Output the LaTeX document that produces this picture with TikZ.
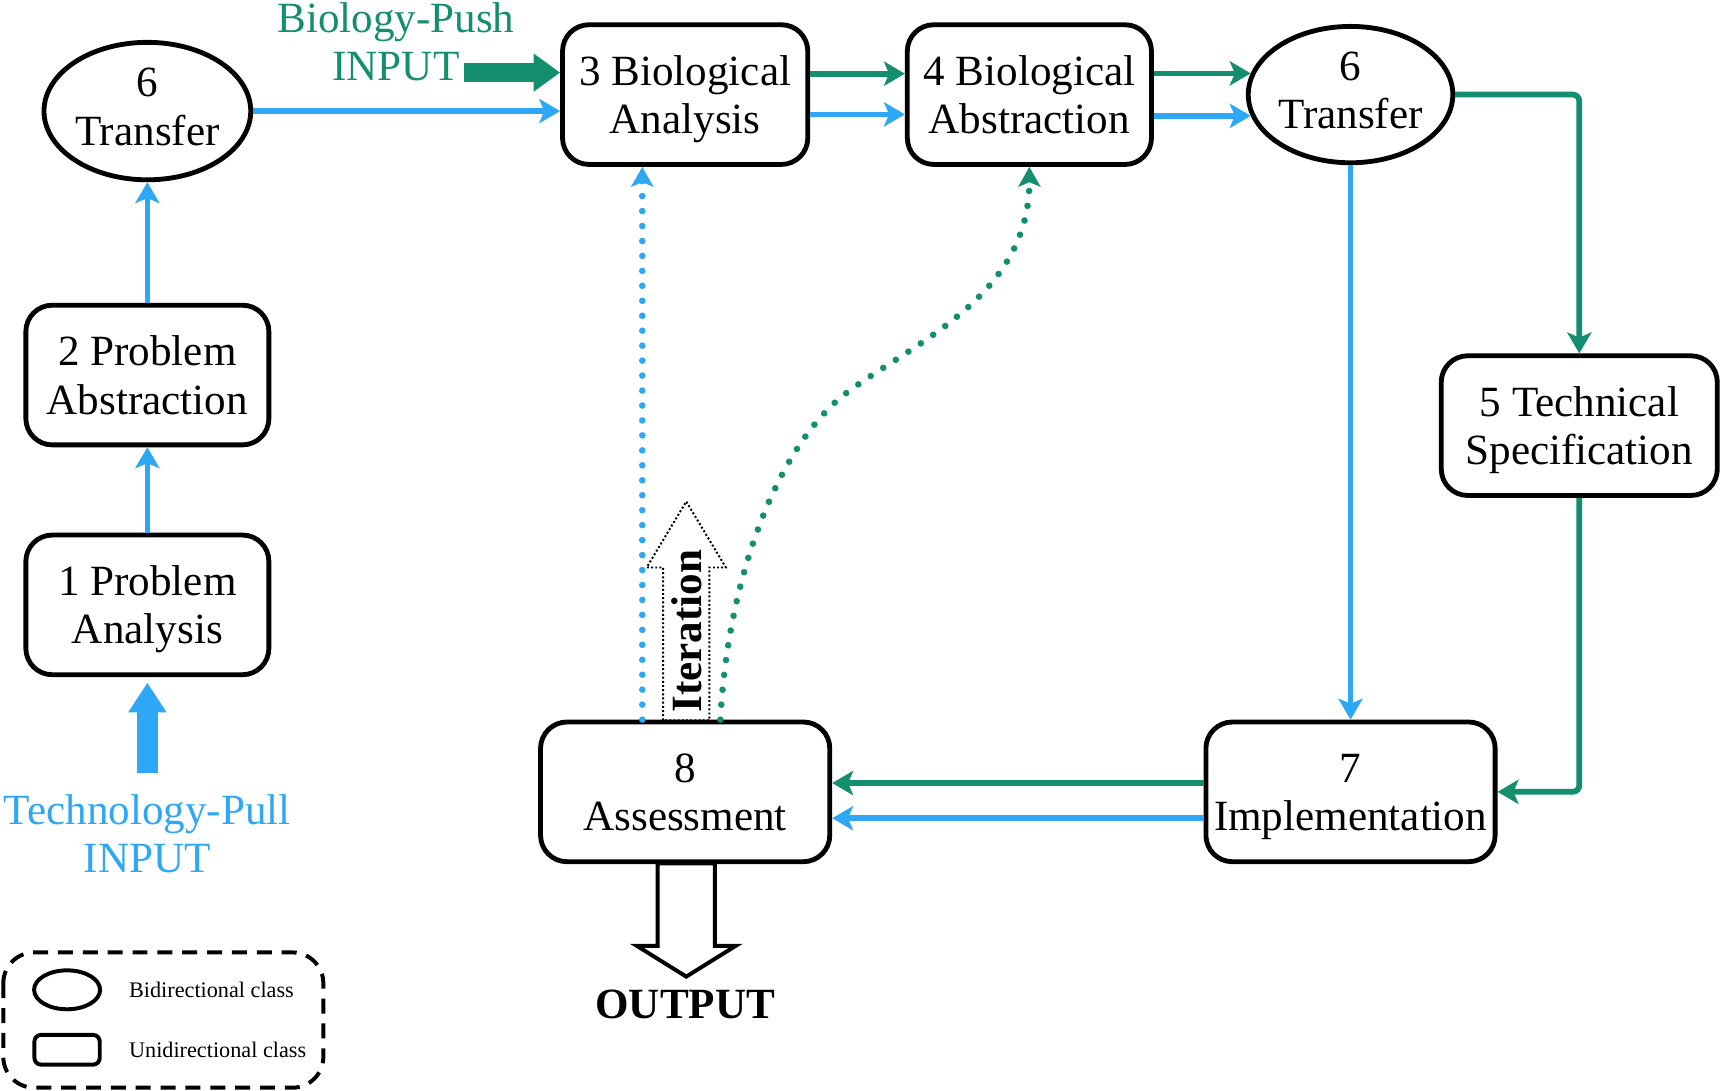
\documentclass[tikz,border=0pt]{standalone}
\usepackage{fontspec}
\setmainfont{Liberation Serif}
\usetikzlibrary{arrows.meta,calc,shapes.geometric}
\definecolor{cblue}{RGB}{46,167,245}
\definecolor{cgreen}{RGB}{19,143,111}
\newcommand\mainfs{\fontsize{19.6pt}{22pt}\selectfont}
\newcommand\legfs{\fontsize{10.1pt}{12pt}\selectfont}
\newcommand\bxtop{\rule{0pt}{18pt}}
\newcommand\bxbot{\rule[-4.5pt]{0pt}{0pt}}
\newcommand\eltop{\rule{0pt}{15.4pt}}
\newcommand\elbot{\rule[-6.4pt]{0pt}{0pt}}
\begin{document}
\begin{tikzpicture}[x=0.5pt,y=-0.5pt,
  stagebox/.style={draw=black,line width=2.2pt,rounded corners=12pt,inner sep=0pt,align=center,font=\mainfs,minimum height=63.5pt},
  stageell/.style={draw=black,line width=2.2pt,ellipse,inner sep=0pt,align=center,font=\mainfs},
  arr/.style={line width=2.6pt,-{Stealth[length=9.5pt,width=11pt,inset=2.3pt]}},
  barr/.style={arr,cblue},
  garr/.style={arr,cgreen},
  dots/.style={line width=3pt,line cap=round,dash pattern=on 0pt off 6.8pt,-{Stealth[length=9pt,width=10pt,inset=2pt]}},
  lbl/.style={font=\mainfs,align=center,inner sep=0pt},
  legtext/.style={anchor=west,font=\legfs,inner sep=0pt}
]
\useasboundingbox (0,0) rectangle (1568.5,992);

% stages
\node[stageell,minimum width=94pt,minimum height=62.5pt] (lt) at (134,101) {\eltop 6\\Transfer\elbot};
\node[stagebox,minimum width=110.5pt] (b2) at (134,341) {\bxtop 2 Problem\\Abstraction\bxbot};
\node[stagebox,minimum width=110.5pt] (b1) at (134,550) {\bxtop 1 Problem\\Analysis\bxbot};
\node[stagebox,minimum width=111.5pt] (b3) at (623,86) {\bxtop 3 Biological\\Analysis\bxbot};
\node[stagebox,minimum width=111pt] (b4) at (936,86) {\bxtop 4 Biological\\Abstraction\bxbot};
\node[stageell,minimum width=93pt,minimum height=62pt] (rt) at (1228,86) {\eltop 6\\Transfer\elbot};
\node[stagebox,minimum width=125.5pt] (b5) at (1436,387) {\bxtop 5 Technical\\Specification\bxbot};
\node[stagebox,minimum width=131.5pt] (b7) at (1228,720) {\bxtop 7\\Implementation\bxbot};
\node[stagebox,minimum width=131.5pt] (b8) at (623,720) {\bxtop 8\\Assessment\bxbot};

% inputs
\node[lbl,text=cgreen] (bp) at (360,38) {Biology-Push\\INPUT};
\node[lbl,text=cblue] (tp) at (134,758) {Technology-Pull\\INPUT};
\coordinate (bpstart) at (422,66);
\coordinate (tpstart) at (134,703);
\draw[cgreen,line width=9pt,-{Triangle[length=12pt,width=16.5pt]}] (bpstart) -- (b3.west |- bpstart);
\draw[cblue,line width=9.7pt,-{Triangle[length=13.5pt,width=16.5pt]}] (tpstart) -- ($(b1.south)+(0,5)$);

% connectors
\draw[barr] (b1.north) -- (b2.south);
\draw[barr] (b2.north) -- (lt.south);
\draw[barr] (lt.east) -- (b3.west |- lt.east);
\draw[garr] ($(b3.east)+(0,-19)$) -- ($(b4.west)+(0,-19)$);
\draw[barr] ($(b3.east)+(0,18)$) -- ($(b4.west)+(0,18)$);
\draw[garr] (b4.east |- rt.168) -- (rt.168);
\draw[barr] (b4.east |- rt.192) -- (rt.192);
\draw[garr,rounded corners=3pt] (rt.east) -| (b5.north);
\draw[barr] (rt.south) -- (b7.north);
\draw[garr,rounded corners=3pt] (b5.south) |- (b7.east);
\draw[garr] ($(b7.west)+(0,-8)$) -- ($(b8.east)+(0,-8)$);
\draw[barr] ($(b7.west)+(0,24)$) -- ($(b8.east)+(0,24)$);

% iteration feedback
\draw[dots,cblue] ($(b8.north)+(-39,0)$) -- ($(b3.south)+(-39,0)$);
\draw[dots,cgreen] ($(b8.north)+(32,0)$) .. controls (662,520) and (710,402) .. (770,357)
   .. controls (830,312) and (936,270) .. (b4.south);
\draw[line width=0.9pt,densely dotted] (603,655) -- (603,516) -- (588,516) -- (624,456) -- (660,516) -- (645,516) -- (645,655) -- cycle;
\node[font=\mainfs\bfseries,rotate=90,inner sep=0pt] (it) at (624,574) {Iteration};

% output
\draw[line width=1.8pt,fill=white,line join=miter] (598,785) -- (598,860) -- (579,860) -- (624,888) -- (669,860) -- (650,860) -- (650,785) -- cycle;
\node[font=\mainfs\bfseries,inner sep=0pt] (out) at (623,913) {OUTPUT};

% legend
\draw[line width=1.8pt,rounded corners=14pt,dash pattern=on 6.8pt off 4.5pt] (3,866) rectangle (294,989);
\node[draw,ellipse,line width=1.8pt,minimum width=30pt,minimum height=17.7pt,inner sep=0pt] (lge) at (61,900) {};
\node[draw,line width=1.8pt,rounded corners=3pt,minimum width=29.7pt,minimum height=13.5pt,inner sep=0pt] (lgr) at (61,954.5) {};
\node[legtext] (lgt1) at (117,900.5) {Bidirectional class};
\node[legtext] (lgt2) at (117,954.6) {Unidirectional class};
\end{tikzpicture}
\end{document}
